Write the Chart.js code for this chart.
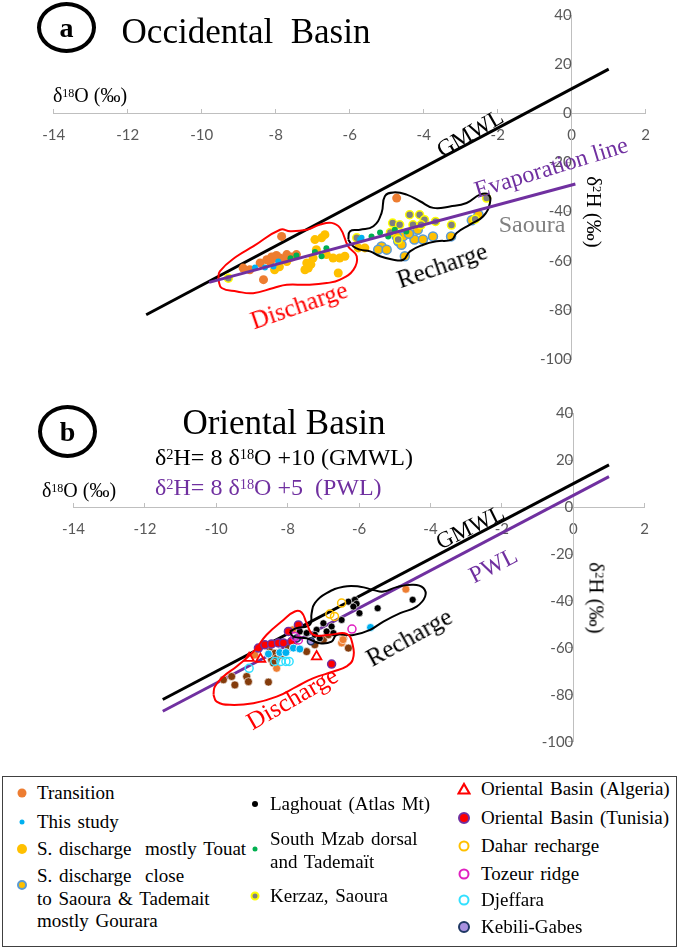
<!DOCTYPE html>
<html><head><meta charset="utf-8">
<script src="https://cdn.jsdelivr.net/npm/chart.js@4.4.0/dist/chart.umd.min.js"></script>
<style>
html,body{margin:0;padding:0;background:#fff;}
body{width:685px;height:949px;position:relative;overflow:hidden;font-family:"Liberation Serif","Times New Roman",serif;color:#000;}
canvas{position:absolute;left:0;}
.t{position:absolute;white-space:nowrap;line-height:1;transform:translate(-50%,-50%);}
.l{position:absolute;white-space:nowrap;line-height:1;transform:translateY(-50%);}
.sp{font-size:0.6em;position:relative;top:-0.45em;}
.circ{position:absolute;border:4px solid #000;border-radius:50%;box-sizing:border-box;display:flex;align-items:center;justify-content:center;font-weight:bold;font-size:28px;}
#legend{position:absolute;left:2px;top:776px;width:675px;height:171px;border:1.5px solid #404040;box-sizing:border-box;}
.lt{position:absolute;font-size:19px;line-height:22.5px;white-space:nowrap;word-spacing:2px;}
.mk{position:absolute;border-radius:50%;box-sizing:border-box;transform:translate(-50%,-50%);}
</style></head>
<body>
<canvas id="ca" width="685" height="390" style="top:0;width:685px;height:390px"></canvas>
<canvas id="cb" width="685" height="380" style="top:390px;width:685px;height:380px"></canvas>

<!-- panel a texts -->
<div class="circ" style="left:37px;top:2px;width:59px;height:51px;">a</div>
<div class="t" style="left:246px;top:31px;font-size:35px;">Occidental&nbsp; Basin</div>
<div class="t" style="left:90px;top:95px;font-size:20px;">δ<span class="sp">18</span>O (‰)</div>
<div class="t" style="left:470px;top:133px;font-size:23px;transform:translate(-50%,-50%) rotate(-30deg);">GMWL</div>
<div class="t" style="left:551px;top:167px;font-size:24px;color:#7030A0;transform:translate(-50%,-50%) rotate(-17deg);">Evaporation line</div>
<div class="t" style="left:532px;top:224px;font-size:24px;color:#808080;">Saoura</div>
<div class="t" style="left:593px;top:212px;font-size:21px;transform:translate(-50%,-50%) rotate(90deg);">δ<span class="sp">2</span>H (‰)</div>
<div class="t" style="left:442px;top:265px;font-size:25px;transform:translate(-50%,-50%) rotate(-19deg);">Recharge</div>
<div class="t" style="left:299px;top:305px;font-size:25px;color:#FF0000;transform:translate(-50%,-50%) rotate(-19deg);">Discharge</div>

<!-- panel b texts -->
<div class="circ" style="left:38px;top:405px;width:59px;height:53px;">b</div>
<div class="t" style="left:284px;top:422px;font-size:35px;">Oriental Basin</div>
<div class="l" style="left:155px;top:457px;font-size:24px;">δ<span class="sp">2</span>H= 8 δ<span class="sp">18</span>O +10 (GMWL)</div>
<div class="l" style="left:155px;top:487px;font-size:24px;color:#7030A0;">δ<span class="sp">2</span>H= 8 δ<span class="sp">18</span>O +5&nbsp; (PWL)</div>
<div class="t" style="left:79px;top:490px;font-size:20px;">δ<span class="sp">18</span>O (‰)</div>
<div class="t" style="left:470px;top:527px;font-size:23px;transform:translate(-50%,-50%) rotate(-26deg);">GMWL</div>
<div class="t" style="left:493px;top:565px;font-size:24px;color:#7030A0;transform:translate(-50%,-50%) rotate(-27deg);">PWL</div>
<div class="t" style="left:596px;top:598px;font-size:21px;transform:translate(-50%,-50%) rotate(90deg);">δ<span class="sp">2</span>H (‰)</div>
<div class="t" style="left:409px;top:637px;font-size:25px;transform:translate(-50%,-50%) rotate(-29deg);">Recharge</div>
<div class="t" style="left:292px;top:698px;font-size:25px;color:#FF0000;transform:translate(-50%,-50%) rotate(-30deg);">Discharge</div>

<!-- legend -->
<div id="legend"></div>
<div class="mk" style="left:22px;top:793px;width:9px;height:9px;background:#ED7D31;"></div>
<div class="lt" style="left:37px;top:782px;">Transition</div>
<div class="mk" style="left:22px;top:822px;width:5px;height:5px;background:#00B0F0;"></div>
<div class="lt" style="left:37px;top:811px;">This study</div>
<div class="mk" style="left:22px;top:849px;width:10px;height:10px;background:#FFC000;"></div>
<div class="lt" style="left:37px;top:838px;">S. discharge&nbsp; mostly Touat</div>
<div class="mk" style="left:22px;top:885px;width:10px;height:10px;background:#FFC000;border:2px solid #5B9BD5;"></div>
<div class="lt" style="left:37px;top:865px;">S. discharge&nbsp; close<br>to Saoura &amp; Tademait<br>mostly Gourara</div>

<div class="mk" style="left:255px;top:804px;width:6px;height:6px;background:#000;"></div>
<div class="lt" style="left:270px;top:793px;">Laghouat (Atlas Mt)</div>
<div class="mk" style="left:255px;top:849px;width:5px;height:5px;background:#00B050;"></div>
<div class="lt" style="left:270px;top:828px;">South Mzab dorsal<br>and Tademaït</div>
<div class="mk" style="left:255px;top:896px;width:9px;height:9px;background:#808080;border:2px solid #FFFF00;"></div>
<div class="lt" style="left:270px;top:885px;">Kerzaz, Saoura</div>

<svg style="position:absolute;left:457px;top:782px;" width="14" height="13"><polygon points="7,2 12.5,11.5 1.5,11.5" fill="none" stroke="#FF0000" stroke-width="2.2"/></svg>
<div class="lt" style="left:481px;top:778px;">Oriental Basin (Algeria)</div>
<div class="mk" style="left:464px;top:818px;width:12px;height:12px;background:#FF0000;border:2.5px solid #7030A0;"></div>
<div class="lt" style="left:481px;top:807px;">Oriental Basin (Tunisia)</div>
<div class="mk" style="left:464px;top:846px;width:11px;height:11px;border:2.5px solid #FFC000;"></div>
<div class="lt" style="left:481px;top:835px;">Dahar recharge</div>
<div class="mk" style="left:464px;top:874px;width:11px;height:11px;border:2.5px solid #E020C0;"></div>
<div class="lt" style="left:481px;top:863px;">Tozeur ridge</div>
<div class="mk" style="left:464px;top:900px;width:11px;height:11px;border:2.5px solid #33E0FF;"></div>
<div class="lt" style="left:481px;top:889px;">Djeffara</div>
<div class="mk" style="left:464px;top:927px;width:12px;height:12px;background:#A891E0;border:2.5px solid #1F3864;"></div>
<div class="lt" style="left:481px;top:916px;">Kebili-Gabes</div>

<script>
// ---------- tick values ----------
const xTickVals = [-14, -12, -10, -8, -6, -4, -2, 0, 2];
const yTickVals = [-100, -80, -60, -40, -20, 0, 20, 40];

// ---------- panel a (Occidental Basin) ----------
const gmwlA = [[-11.5, -82], [1.0, 18]];
const evapA = [[-9.8, -68.8], [0.1, -28.8]];
const transitionA = [[-7.84,-50.1],[-4.73,-34.5],[-8.88,-63.0],[-8.70,-63.7],[-8.42,-60.9],[-8.24,-59.6],[-8.11,-58.5],[-7.98,-57.9],[-7.89,-58.9],[-7.70,-57.5],[-7.57,-58.5],[-7.44,-57.5],[-8.15,-60.3],[-8.33,-67.7],[-8.05,-59.0],[-7.75,-59.3]];
const thisStudyA = [[-8.56,-62.8],[-8.29,-62.8],[-8.06,-62.4],[-7.93,-60.3],[-5.72,-51.4],[-5.68,-50.7]];
const touatA = [[-6.94,-51.4],[-6.67,-49.4],[-6.76,-50.7],[-6.90,-55.5],[-7.16,-60.9],[-7.21,-63.7],[-7.12,-63.0],[-6.45,-58.9],[-6.27,-58.9],[-6.13,-58.2],[-6.31,-65.0],[-8.03,-63.7],[-7.70,-60.3],[-6.99,-58.9],[-6.63,-57.5],[-5.77,-54.8],[-5.59,-54.8],[-7.05,-61.5],[-7.90,-62.5]];
const gouraraA = [[-5.14,-54.2],[-5.23,-55.5],[-5.00,-55.5],[-4.51,-58.2],[-4.56,-50.1],[-4.25,-51.4],[-4.02,-51.4],[-3.75,-50.1],[-3.26,-50.1],[-2.52,-41.3],[-4.69,-52.1],[-4.16,-47.4],[-4.73,-50.1],[-4.40,-49.0],[-4.60,-53.5],[-2.70,-43.5]];
const mzabA = [[-7.44,-57.9],[-6.63,-54.9],[-6.76,-58.2],[-5.41,-50.1],[-5.18,-48.5],[-4.96,-50.1],[-4.78,-47.4],[-4.47,-48.1],[-6.94,-56.5],[-7.60,-59.0]];
const kerzazA = [[-2.30,-34.5],[-2.61,-43.1],[-4.84,-44.7],[-4.65,-45.4],[-4.38,-41.3],[-4.11,-41.3],[-3.98,-43.3],[-4.29,-45.4],[-4.07,-45.4],[-3.68,-44.0],[-4.69,-51.4],[-5.81,-50.7],[-9.28,-67.1],[-3.25,-45.5],[-4.90,-48.5]];
const dischargeOutlineA = [[-9.55,-67.7],[-9.51,-64.3],[-9.05,-58.2],[-8.61,-54.2],[-7.88,-47.4],[-7.61,-48.0],[-7.16,-47.4],[-6.80,-45.3],[-6.49,-44.6],[-6.26,-46.7],[-6.04,-54.2],[-5.81,-58.2],[-5.90,-63.7],[-6.26,-67.7],[-6.62,-69.1],[-7.16,-69.8],[-7.70,-69.8],[-8.06,-71.1],[-8.61,-73.2],[-9.05,-72.5],[-9.46,-71.1],[-9.55,-67.7]];
const rechargeOutlineA = [[-6.04,-51.4],[-5.99,-48.0],[-5.72,-47.4],[-5.36,-46.0],[-5.14,-40.6],[-5.05,-33.8],[-4.82,-32.2],[-4.46,-33.1],[-4.10,-35.8],[-3.74,-38.5],[-3.29,-37.9],[-2.84,-36.5],[-2.48,-33.1],[-2.25,-33.1],[-2.21,-36.5],[-2.39,-41.9],[-2.75,-45.3],[-3.11,-48.7],[-3.24,-51.4],[-3.65,-52.1],[-4.01,-53.5],[-4.37,-56.2],[-4.55,-59.6],[-4.82,-59.6],[-5.18,-58.2],[-5.45,-56.2],[-5.72,-55.5],[-5.90,-54.2],[-6.04,-51.4]];

// ---------- panel b (Oriental Basin) ----------
const gmwlB = [[-11.5, -82], [1.0, 18]];
const pwlB = [[-11.5, -87], [1.0, 13]];
const laghouatB = [[-6.30,-40.3],[-6.12,-39.5],[-6.07,-41.2],[-6.16,-42.4],[-5.99,-45.2],[-5.48,-43.1],[-4.50,-39.5],[-6.49,-48.1],[-7.00,-49.5],[-6.77,-50.9],[-7.19,-52.3],[-6.91,-53.0],[-7.66,-53.0],[-7.47,-53.7],[-7.24,-54.4],[-7.10,-55.9],[-6.72,-53.7]];
const brownB = [[-9.80,-73.6],[-9.57,-72.2],[-9.48,-75.8],[-9.15,-72.2],[-9.10,-74.4],[-8.54,-74.6],[-8.50,-61.6],[-8.36,-62.3],[-8.45,-65.1],[-8.31,-64.4],[-7.98,-60.1],[-7.47,-61.6],[-7.24,-58.7],[-7.00,-56.6],[-6.86,-54.4],[-6.30,-60.1],[-6.44,-55.9],[-7.84,-57.9],[-8.20,-63.0],[-8.40,-66.5]];
const transitionB = [[-4.69,-35.0],[-6.49,-57.9],[-8.31,-68.7],[-8.92,-63.0],[-7.86,-52.3],[-6.45,-56.5]];
const tunisiaB = [[-8.82,-60.1],[-8.64,-58.7],[-8.45,-58.3],[-8.26,-57.9],[-8.12,-57.9],[-7.98,-53.0],[-7.70,-50.2],[-6.77,-66.9],[-7.89,-57.3]];
const thisStudyB = [[-8.54,-62.6],[-8.22,-62.0],[-8.05,-62.0],[-7.84,-60.1],[-7.66,-60.5],[-5.68,-51.3]];
const djeffaraB = [[-9.08,-68.7],[-8.19,-65.8],[-8.05,-65.8],[-7.96,-65.8],[-8.36,-65.8]];
const tozeurB = [[-6.20,-52.0],[-7.70,-56.6],[-7.80,-55.2]];
const daharB = [[-6.49,-40.9],[-6.82,-45.6],[-6.69,-46.6]];
const algeriaB = [[-9.08,-64.4],[-8.76,-64.8],[-7.19,-63.7]];
const kebiliB = [[-7.75,-56.0],[-7.35,-57.2]];
const dischargeOutlineB = [[-10.08,-80.0],[-10.04,-76.5],[-9.80,-72.2],[-9.43,-67.9],[-8.96,-61.6],[-8.59,-54.4],[-8.12,-48.1],[-7.80,-44.5],[-7.61,-44.9],[-7.47,-49.5],[-7.28,-54.4],[-6.82,-54.4],[-6.35,-54.0],[-6.18,-58.7],[-6.18,-65.1],[-6.35,-67.9],[-6.72,-70.1],[-7.28,-72.9],[-7.75,-76.5],[-8.31,-80.8],[-8.96,-83.6],[-9.62,-84.3],[-9.99,-82.9],[-10.08,-80.0]];
const rechargeOutlineB = [[-7.94,-53.0],[-7.75,-51.6],[-7.38,-50.2],[-7.33,-45.2],[-7.24,-40.9],[-6.91,-36.7],[-6.44,-33.9],[-5.97,-33.9],[-5.60,-35.3],[-5.32,-36.0],[-4.95,-34.1],[-4.48,-33.1],[-4.20,-34.5],[-4.15,-38.1],[-4.39,-42.4],[-4.85,-45.2],[-5.32,-48.8],[-5.69,-52.3],[-6.16,-54.5],[-6.63,-54.5],[-6.77,-57.3],[-7.10,-58.0],[-7.47,-55.9],[-7.84,-55.2],[-7.94,-53.0]];

const pts = a => a.map(p => ({x: p[0], y: p[1]}));
const line = (d, color, w, tension) => ({data: pts(d), showLine: true, borderColor: color, borderWidth: w, pointRadius: 0, fill: false, tension: tension || 0, backgroundColor: 'transparent'});
const dots = (d, bg, border, bw, r, style) => ({data: pts(d), showLine: false, backgroundColor: bg, borderColor: border, borderWidth: bw, pointRadius: r, pointStyle: style || 'circle'});

const FONT = 'Lato, "Open Sans", sans-serif';
function scales() {
  return {
    x: {type: 'linear', min: -14, max: 2, position: {y: 0},
      afterBuildTicks: s => { s.ticks = xTickVals.map(v => ({value: v})); },
      afterFit: s => { s.height = 0; s.paddingLeft = 0; s.paddingRight = 0; },
      grid: {drawOnChartArea: false, drawTicks: true, tickLength: -5, color: '#BFBFBF', lineWidth: 1},
      border: {display: true, color: '#BFBFBF', width: 1},
      ticks: {color: '#595959', font: {family: FONT, size: 15}, padding: 18, maxRotation: 0, autoSkip: false}},
    y: {type: 'linear', min: -100, max: 40, position: {x: 0},
      afterBuildTicks: s => { s.ticks = yTickVals.map(v => ({value: v})); },
      afterFit: s => { s.width = 0; s.paddingTop = 0; s.paddingBottom = 0; },
      grid: {drawOnChartArea: false, drawTicks: true, tickLength: 5, color: '#BFBFBF', lineWidth: 1},
      border: {display: true, color: '#BFBFBF', width: 1},
      ticks: {color: '#595959', font: {family: FONT, size: 15}, padding: 7, autoSkip: false}}
  };
}
function make(id, datasets, pad) {
  return new Chart(document.getElementById(id), {
    type: 'scatter',
    data: {datasets},
    options: {responsive: false, animation: false, events: [],
      layout: {padding: pad},
      plugins: {legend: {display: false}, tooltip: {enabled: false}, title: {display: false}},
      scales: scales()}
  });
}

make('ca', [
  line(evapA, '#7030A0', 3),
  line(dischargeOutlineA, '#FF0000', 2, 0.45),
  line(rechargeOutlineA, '#000000', 2, 0.45),
  dots(mzabA, '#00B050', '#00B050', 0, 3),
  dots(thisStudyA, '#00B0F0', '#00B0F0', 0, 3),
  dots(kerzazA, '#7F7F7F', '#FFFF00', 1.5, 4),
  dots(gouraraA, '#FFC000', '#5B9BD5', 1.5, 4.5),
  dots(transitionA, '#ED7D31', '#ED7D31', 0, 4.5),
  dots(touatA, '#FFC000', '#FFC000', 0, 4.5),
  line(gmwlA, '#000000', 3)
], {left: 53.7, right: 39.3, top: 15, bottom: 31});

make('cb', [
  line(dischargeOutlineB, '#FF0000', 2, 0.45),
  line(rechargeOutlineB, '#000000', 2, 0.45),
  dots(algeriaB, 'transparent', '#FF0000', 1.8, 5.5, 'triangle'),
  dots(djeffaraB, 'transparent', '#33E0FF', 1.5, 4),
  dots(tozeurB, 'transparent', '#E020C0', 1.5, 4),
  dots(daharB, 'transparent', '#FFC000', 1.5, 4),
  dots(kebiliB, '#A891E0', '#1F3864', 1.5, 3.5),
  dots(thisStudyB, '#00B0F0', '#FFFFFF', 0.8, 4),
  dots(tunisiaB, '#FF0000', '#7030A0', 1.5, 4),
  dots(laghouatB, '#000000', '#FFFFFF', 0.6, 3.5),
  dots(transitionB, '#ED7D31', '#FFFFFF', 0.6, 4),
  dots(brownB, '#843C0C', '#FFFFFF', 0.6, 4),
  line(pwlB, '#7030A0', 3),
  line(gmwlB, '#000000', 3)
], {left: 73.5, right: 40.3, top: 23.3, bottom: 28.3});
</script>
</body></html>
